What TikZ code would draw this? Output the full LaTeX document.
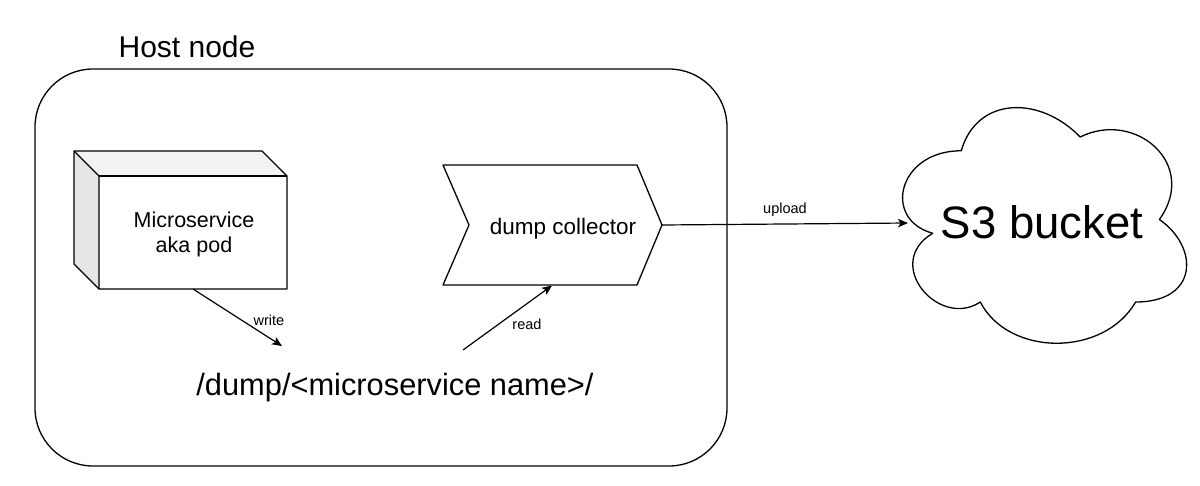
\documentclass[tikz,border=0pt]{standalone}
\usepackage{fontspec}
\setmainfont{Liberation Sans}
\usetikzlibrary{arrows.meta}
\definecolor{topface}{HTML}{F2F2F2}
\definecolor{sideface}{HTML}{E6E6E6}
\tikzset{
  outline/.style={draw=black, line width=1.3pt, line join=round},
  conn/.style={draw=black, line width=1.2pt, -{Stealth[length=10pt,width=8.5pt,inset=2.5pt]}},
  lbl/.style={inner sep=0pt, anchor=base},
  small/.style={font=\fontsize{14.5}{17}\selectfont},
}
\begin{document}
\begin{tikzpicture}[x=1pt,y=-1pt]
\useasboundingbox (0,0) rectangle (1200,485);
% host node
\draw[outline, rounded corners=58pt] (35,69) rectangle (727,466);
\node[lbl, font=\fontsize{30}{34}\selectfont] (host) at (187,57) {Host node};
% cube
\fill[sideface] (74,151) -- (99,176) -- (99,289) -- (74,264) -- cycle;
\fill[topface] (74,151) -- (262,151) -- (287,176) -- (99,176) -- cycle;
\draw[outline] (74,151) -- (262,151) -- (287,176) -- (287,289) -- (99,289) -- (74,264) -- cycle;
\draw[outline] (74,151) -- (99,176) -- (99,289);
\draw[outline] (99,176) -- (287,176);
\node[font=\fontsize{21.5}{25}\selectfont, align=center, inner sep=0pt] (pod) at (194,234) {Microservice\\aka pod};
% dump collector chevron
\draw[outline] (443,165) -- (637,165) -- (662,225) -- (637,285) -- (443,285) -- (469,225) -- cycle;
\node[lbl, font=\fontsize{22.5}{26}\selectfont] (dc) at (563,234) {dump collector};
% path text
\node[lbl, font=\fontsize{30.8}{35}\selectfont] (dump) at (395,395) {/dump/<microservice name>/};
% cloud
\begin{scope}[xshift=882pt, yshift=-82pt, x=317pt, y=-275pt]
\draw[outline] (0.25,0.25) .. controls (0.05,0.25) and (0,0.5) .. (0.16,0.55)
 .. controls (0,0.66) and (0.18,0.9) .. (0.31,0.8)
 .. controls (0.4,1) and (0.7,1) .. (0.8,0.8)
 .. controls (1,0.8) and (1,0.6) .. (0.875,0.5)
 .. controls (1,0.3) and (0.8,0.1) .. (0.625,0.2)
 .. controls (0.5,0.05) and (0.3,0.05) .. (0.25,0.25) -- cycle;
\end{scope}
\node[lbl, font=\fontsize{45.5}{50}\selectfont] (s3) at (1042,238) {S3 bucket};
% connector ends
\coordinate (podout) at (193,289);
\coordinate (wend) at (282,346);
\coordinate (rstart) at (463,350);
\coordinate (dcbot) at (552,285.5);
\coordinate (dctip) at (662,225);
\coordinate (s3in) at (908,223);
% connectors
\draw[conn] (podout) -- (wend);
\draw[conn] (rstart) -- (dcbot);
\draw[conn] (dctip) -- (s3in);
\node[lbl, small] (wlbl) at (269,325) {write};
\node[lbl, small] (rlbl) at (527,329) {read};
\node[lbl, small] (ulbl) at (785,213) {upload};
\end{tikzpicture}
\end{document}
